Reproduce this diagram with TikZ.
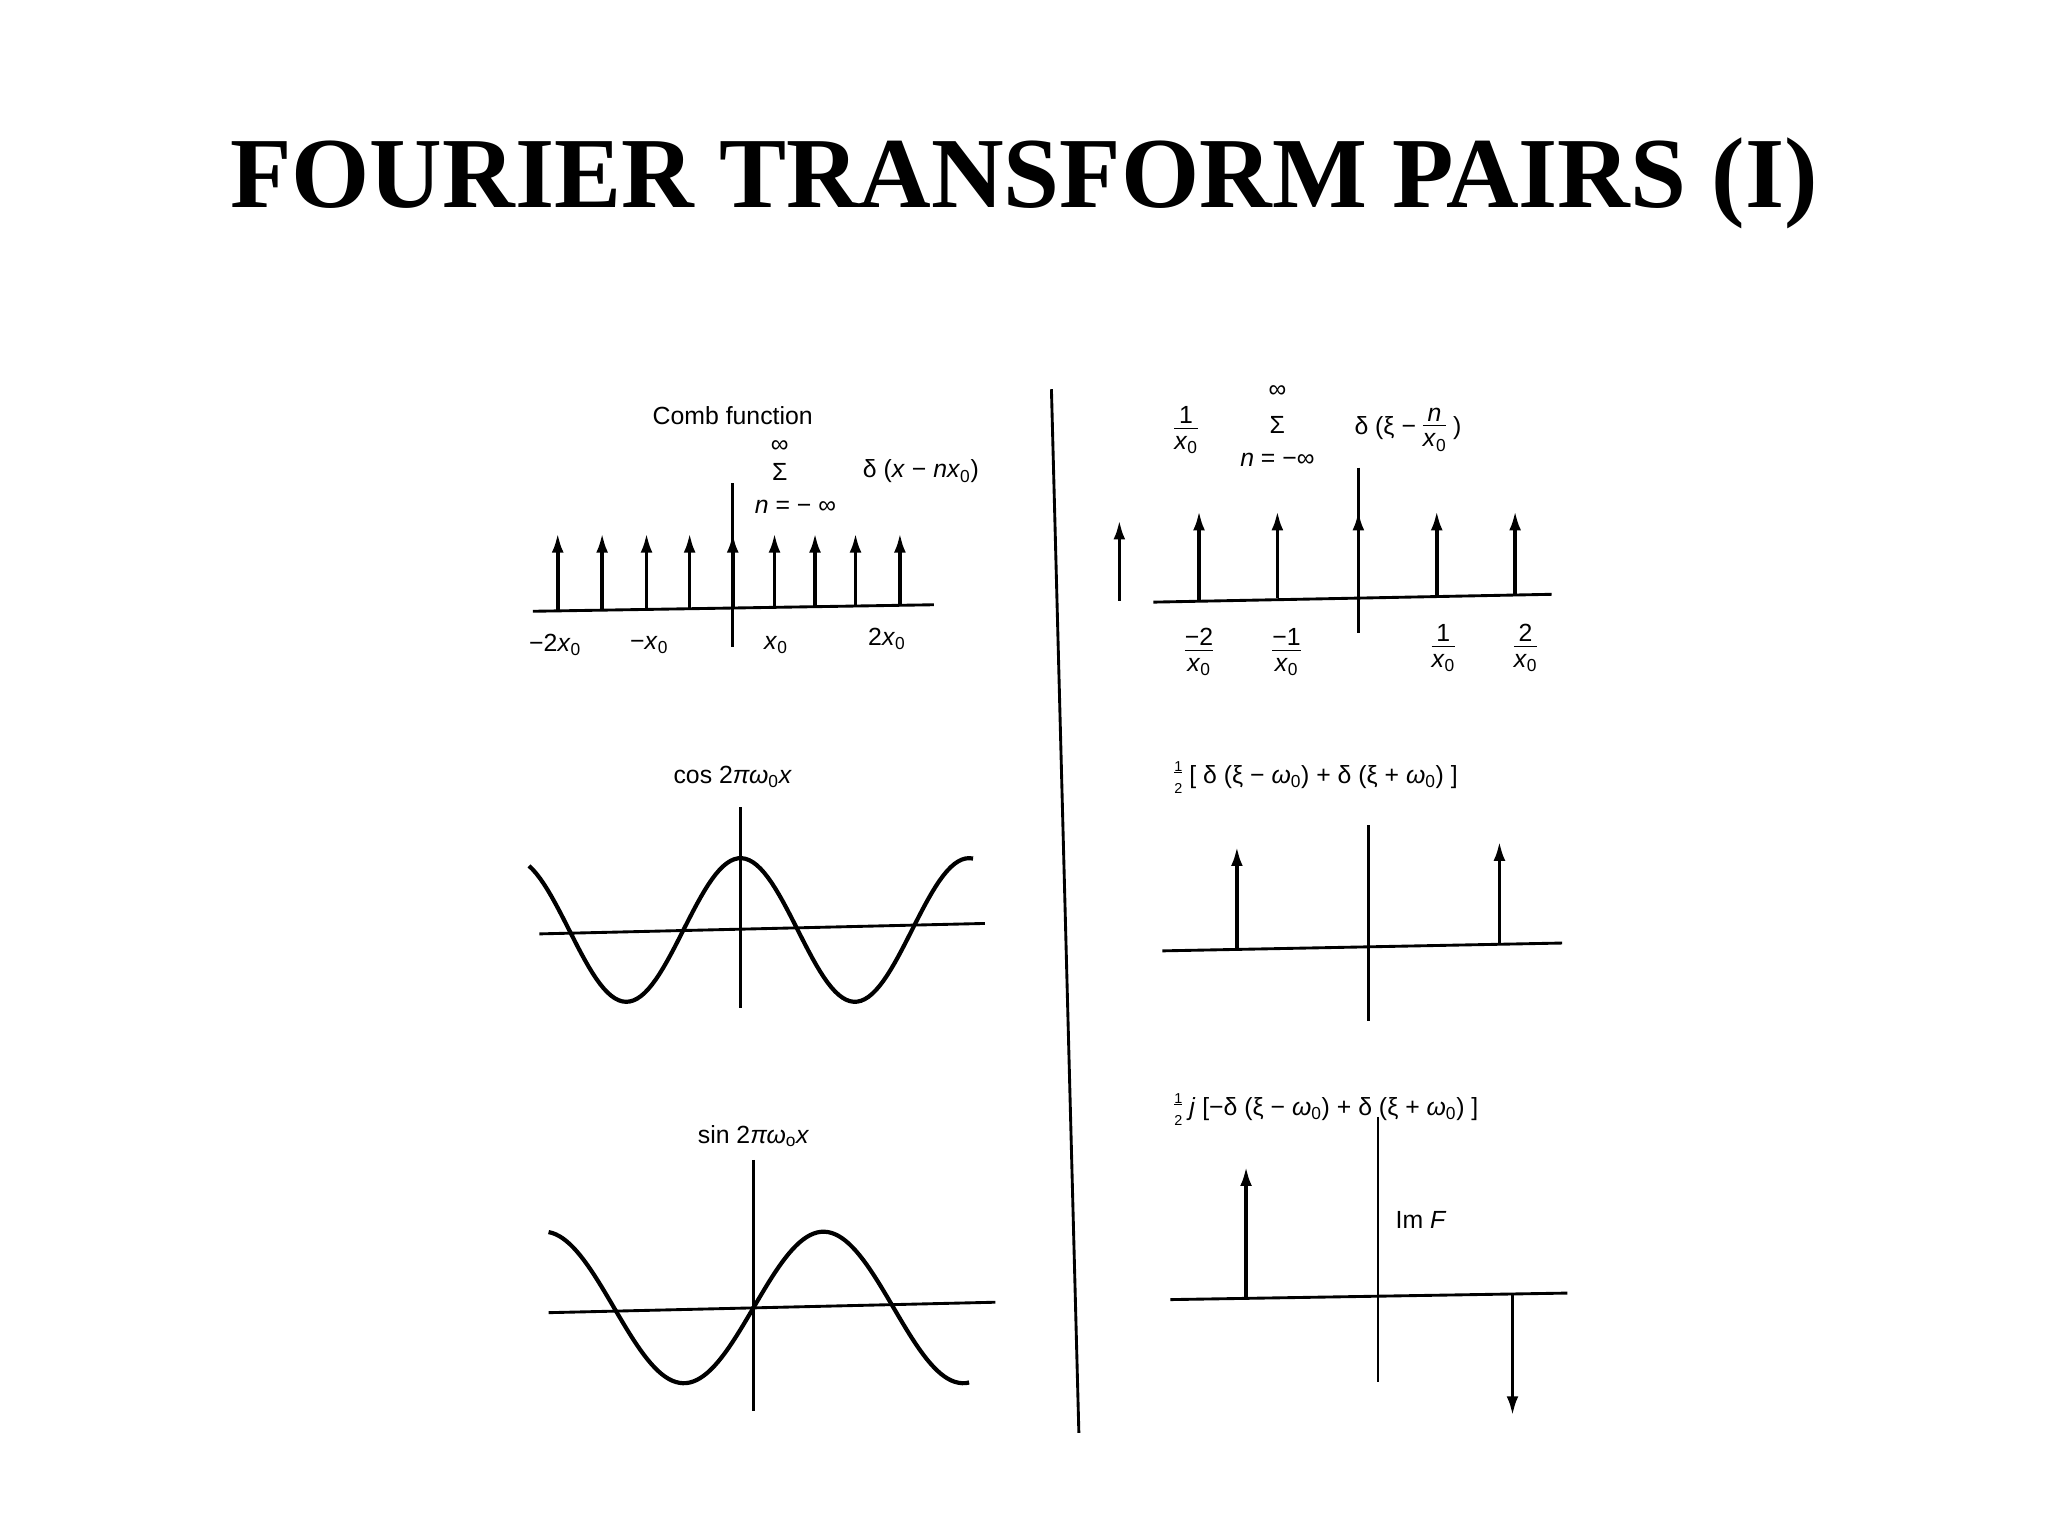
\documentclass[tikz,border=0pt]{standalone}
\usepackage{fontspec}
\setmainfont{Liberation Sans}
\newfontfamily\titlefont{Liberation Serif}
\usetikzlibrary{arrows.meta}
\newcommand{\fr}[2]{\begin{tabular}{@{}c@{}}#1\\[-3pt]\hline\rule{0pt}{16pt}#2\end{tabular}}
\newcommand{\xo}{\textit{x}\textsubscript{0}}
\begin{document}
\begin{tikzpicture}[x=1pt,y=-1pt,
  ln/.style={line width=2.2pt,black},
  spike/.style={line width=2.8pt,-{Latex[length=15,width=9]}},
  lbl/.style={font=\fontsize{19}{21}\selectfont,inner sep=1pt},
  wave/.style={line width=3.2pt}]
\useasboundingbox (0,0) rectangle (1568,1176);
\fill[white] (0,0) rectangle (1568,1176);
\node[font=\titlefont\bfseries\fontsize{77}{82}\selectfont] (title) at (784,140) {FOURIER TRANSFORM PAIRS (I)};
\coordinate (d1) at (805,298); \coordinate (d2) at (826,1097);
\draw[ln] (d1) -- (d2);
% left top
\node[lbl] (comb) at (561,318) {Comb function};
\node[lbl] (inf1) at (597,342) {∞};
\node[lbl] (sig1) at (597,361) {Σ};
\node[lbl] (n1) at (609,388) {\textit{n} = − ∞};
\node[lbl] (d1l) at (705,361) {δ (\textit{x} − \textit{n}\xo)};
\coordinate (a1) at (408,468); \coordinate (a2) at (715,463);
\draw[ln] (a1) -- (a2);
\coordinate (v1) at (561,370); \coordinate (v2) at (561,495);
\draw[ln] (v1) -- (v2);
\foreach \x/\y in {427/468,461/467,495/467,528/466,561/466,593/465,624/465,655/464,689/464}{
  \coordinate (s\x) at (\x,\y); \coordinate (t\x) at (\x,408);
  \draw[spike] (s\x) -- (t\x);}
\node[lbl] (l1) at (425,494) {−2\xo};
\node[lbl] (l2) at (497,494) {−\xo};
\node[lbl] (l3) at (594,494) {\xo};
\node[lbl] (l4) at (679,489) {2\xo};
% left middle
\node[lbl] (cosl) at (561,595) {cos 2\textit{πω}\textsubscript{0}\textit{x}};
\coordinate (b1) at (413,715); \coordinate (b2) at (754,707);
\draw[ln] (b1) -- (b2);
\coordinate (w1) at (567,618); \coordinate (w2) at (567,772);
\draw[ln] (w1) -- (w2);
\draw[wave,domain=-162:178,samples=120,variable=\t] plot ({\t+567},{712-55*cos(\t/175*360)});
% left bottom
\node[lbl] (sinl) at (577,870) {sin 2\textit{πω}\textsubscript{o}\textit{x}};
\coordinate (c1) at (420,1005); \coordinate (c2) at (762,997);
\draw[ln] (c1) -- (c2);
\coordinate (u1) at (577,888); \coordinate (u2) at (577,1080);
\draw[ln] (u1) -- (u2);
\draw[wave,domain=-157:165,samples=120,variable=\t] plot ({\t+577},{1001-58*sin(\t/214*360)});
% right top
\node[lbl] (fr1) at (908,330) {\fr{1}{\xo}};
\node[lbl] (inf2) at (978,300) {∞};
\node[lbl] (sig2) at (978,325) {Σ};
\node[lbl] (n2) at (978,352) {\textit{n} = −∞};
\node[lbl] (d2l) at (1078,328) {δ (ξ − \fr{\textit{n}}{\xo} )};
\coordinate (e1) at (883,461); \coordinate (e2) at (1188,455);
\draw[ln] (e1) -- (e2);
\coordinate (z1) at (1040,358); \coordinate (z2) at (1040,485);
\draw[ln] (z1) -- (z2);
\foreach \x/\y in {918/459,978/458,1040/457,1100/456,1160/455}{
  \coordinate (p\x) at (\x,\y); \coordinate (q\x) at (\x,391);
  \draw[spike] (p\x) -- (q\x);}
\coordinate (lp) at (857,460); \coordinate (lq) at (857,398);
\draw[spike] (lp) -- (lq);
\node[lbl] (r1) at (918,500) {\fr{−2}{\xo}};
\node[lbl] (r2) at (985,500) {\fr{−1}{\xo}};
\node[lbl] (r3) at (1105,497) {\fr{1}{\xo}};
\node[lbl] (r4) at (1168,497) {\fr{2}{\xo}};
% right middle
\node[lbl,anchor=west] (hl) at (898,597) {\fontsize{11}{11}\selectfont\fr{1}{2}\fontsize{19}{21}\selectfont{} [ δ (ξ − \textit{ω}\textsubscript{0}) + δ (ξ + \textit{ω}\textsubscript{0}) ]};
\coordinate (f1) at (890,728); \coordinate (f2) at (1196,722);
\draw[ln] (f1) -- (f2);
\coordinate (g1) at (1048,632); \coordinate (g2) at (1048,782);
\draw[ln] (g1) -- (g2);
\coordinate (h1) at (947,727); \coordinate (h2) at (947,648);
\draw[spike] (h1) -- (h2);
\coordinate (h3) at (1148,723); \coordinate (h4) at (1148,644);
\draw[spike] (h3) -- (h4);
% right bottom
\node[lbl,anchor=west] (jl) at (898,851) {\fontsize{11}{11}\selectfont\fr{1}{2}\fontsize{19}{21}\selectfont{} \textit{j} [−δ (ξ − \textit{ω}\textsubscript{0}) + δ (ξ + \textit{ω}\textsubscript{0}) ]};
\coordinate (k1) at (896,995); \coordinate (k2) at (1200,990);
\draw[ln] (k1) -- (k2);
\coordinate (m1) at (1055,855); \coordinate (m2) at (1055,1058);
\draw[ln] (m1) -- (m2);
\coordinate (o1) at (954,994); \coordinate (o2) at (954,893);
\draw[spike] (o1) -- (o2);
\coordinate (o3) at (1158,991); \coordinate (o4) at (1158,1084);
\draw[spike] (o3) -- (o4);
\node[lbl] (imf) at (1088,934) {Im \textit{F}};
\end{tikzpicture}
\end{document}
